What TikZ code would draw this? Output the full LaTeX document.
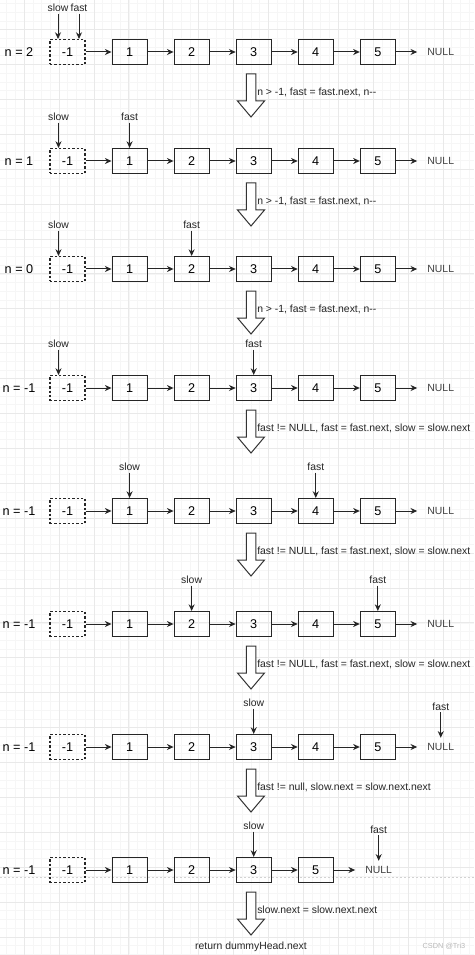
\documentclass[tikz,border=0pt]{standalone}
\usepackage{fontspec}
\setmainfont{Liberation Sans}
\usetikzlibrary{arrows.meta,positioning,calc}

\begin{document}
\begin{tikzpicture}[x=0.75pt, y=-0.75pt,
  cell/.style={draw=black!85, line width=0.8pt, minimum width=26.25pt, minimum height=18.75pt, inner sep=0pt, font=\fontsize{9.5}{11}\selectfont},
  dummy/.style={cell, dash pattern=on 1.8pt off 1.5pt},
  nlab/.style={font=\fontsize{9.5}{11}\selectfont, inner sep=1pt},
  nul/.style={font=\fontsize{7.8}{9}\selectfont, text=black!75, inner xsep=7.5pt, inner ysep=4pt},
  ptr/.style={font=\fontsize{7.8}{9}\selectfont, text=black!85, inner sep=1pt},
  note/.style={font=\fontsize{7.8}{9}\selectfont, text=black!85, inner sep=0pt},
  link/.style={-{Stealth[length=5pt, width=4.5pt]}, line width=0.75pt, black!85},
  hollow/.style={draw=black!80, line width=0.75pt, fill=white},
  minorgrid/.style={gray!7, line width=0.4pt},
  majorgrid/.style={gray!17, line width=0.5pt}
]
\useasboundingbox (0,0) rectangle (474,955);
\fill[white] (0,0) rectangle (474,955);

% background grid
\foreach \k in {-2,...,51}
  \draw[minorgrid] ({24.1+\k*8.725},0) -- ({24.1+\k*8.725},955);
\foreach \k in {-3,...,106}
  \draw[minorgrid] (0,{29.5+\k*8.725}) -- (474,{29.5+\k*8.725});
\foreach \k in {0,...,12}
  \draw[majorgrid] ({24.1+\k*34.9},0) -- ({24.1+\k*34.9},955);
\foreach \k in {0,...,26}
  \draw[majorgrid] (0,{29.5+\k*34.9}) -- (474,{29.5+\k*34.9});
\draw[gray!35, line width=0.5pt, dash pattern=on 1.5pt off 1.5pt] (0,877) -- (474,877);

% lists
\foreach \r/\y/\n/\k/\vals in {1/52/2/5/{1,2,3,4,5}, 2/161/1/5/{1,2,3,4,5}, 3/269/0/5/{1,2,3,4,5}, 4/388/-1/5/{1,2,3,4,5},
    5/511/-1/5/{1,2,3,4,5}, 6/624/-1/5/{1,2,3,4,5}, 7/747/-1/5/{1,2,3,4,5}, 8/870/-1/4/{1,2,3,5}} {
  \node[nlab] (r\r n) at (19,\y) {n = \n};
  \node[dummy] (r\r b0) at (67.5,\y) {-1};
  \foreach \v [count=\i from 1, remember=\i as \j (initially 0)] in \vals {
    \node[cell, right=19.5pt of r\r b\j] (r\r b\i) {\v};
    \draw[link] (r\r b\j) -- (r\r b\i);
  }
  \node[nul, right=16pt of r\r b\k] (r\r null) {NULL};
  \draw[link] (r\r b\k) -- (r\r null);
}

% pointers
\coordinate (r1st) at ($(r1b0.north)+(-9.5,0)$);
\coordinate (r1ft) at ($(r1b0.north)+(11.5,0)$);
\node[ptr, above=19pt of r1st] (r1slow) {slow};
\node[ptr, above=19pt of r1ft] (r1fast) {fast};
\draw[link] (r1slow) -- (r1st);
\draw[link] (r1fast) -- (r1ft);
\foreach \r/\sx/\s/\f in {2/-9/b0/b1, 3/-9/b0/b2, 4/-9/b0/b3, 5/0/b1/b4, 6/0/b2/b5, 7/0/b3/null, 8/0/b3/null} {
  \coordinate (r\r st) at ($(r\r\s.north)+(\sx,0)$);
  \node[ptr, above=19pt of r\r st] (r\r slow) {slow};
  \node[ptr, above=19pt of r\r\f.north] (r\r fast) {fast};
  \draw[link] (r\r slow) -- (r\r st);
  \draw[link] (r\r fast) -- (r\r\f);
}

% steps
\foreach \r/\y/\txt in {1/52/{n > -1, fast = fast.next, n-{}-}, 2/161/{n > -1, fast = fast.next, n-{}-},
    3/269/{n > -1, fast = fast.next, n-{}-}, 4/388/{fast != NULL, fast = fast.next, slow = slow.next},
    5/511/{fast != NULL, fast = fast.next, slow = slow.next}, 6/624/{fast != NULL, fast = fast.next, slow = slow.next},
    7/747/{fast != null, slow.next = slow.next.next}, 8/870/{slow.next = slow.next.next}} {
  \coordinate (d\r) at (251,\y+22);
  \draw[hollow] (d\r) ++(-4.75,0) -- ++(9.5,0) -- ++(0,27) -- ++(8.75,0) -- ++(-13.5,16)
    -- ++(-13.5,-16) -- ++(8.75,0) -- cycle;
  \node[note, anchor=west] (t\r) at ($(d\r)+(6,18)$) {\txt};
}
\node[ptr] (ret) at (251,947) {return dummyHead.next};
\node[font=\fontsize{5.5}{6}\selectfont, text=gray!55, inner sep=0pt] (mark) at (444,946) {CSDN @Tri3};

\end{tikzpicture}
\end{document}
